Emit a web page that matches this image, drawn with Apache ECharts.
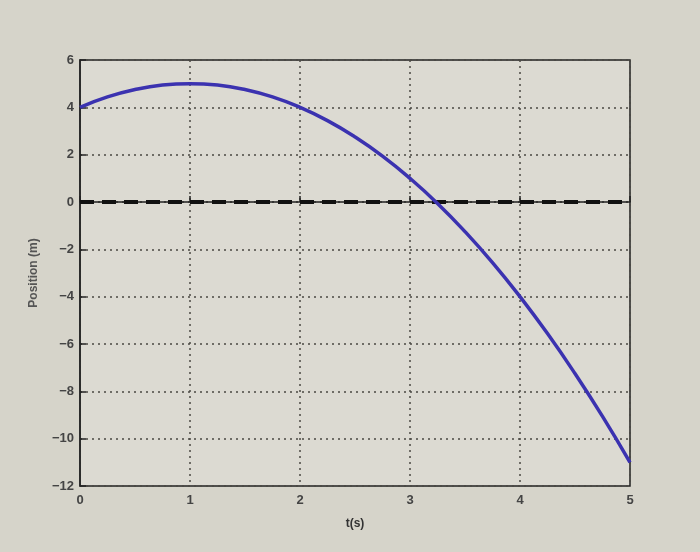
<!DOCTYPE html>
<html><head><meta charset="utf-8">
<script src="https://cdn.jsdelivr.net/npm/echarts@6/dist/echarts.min.js"></script>
<style>html,body{margin:0;padding:0;background:#d6d4ca;}#c{width:700px;height:552px;}</style>
</head><body><div id="c"></div>
<script>
const tValues = [0,0.25,0.5,0.75,1,1.25,1.5,1.75,2,2.25,2.5,2.75,3,3.25,3.5,3.75,4,4.25,4.5,4.75,5];
const position = [4,4.44,4.75,4.94,5,4.94,4.75,4.44,4,3.44,2.75,1.94,1,-0.06,-1.25,-2.56,-4,-5.56,-7.25,-9.06,-11];
const refT = [0,5];
const refY = [0,0];
const xTicks = [0,1,2,3,4,5];
const yTicks = [-12,-10,-8,-6,-4,-2,0,2,4,6];

const chart = echarts.init(document.getElementById('c'));
const gridStyle = {show:true, lineStyle:{color:'#4a4843', type:[2,4], width:1.5}};
chart.setOption({
  backgroundColor:'#d6d4ca',
  animation:false,
  grid:{left:80, right:70, top:60, bottom:66, show:true, borderColor:'#222', borderWidth:1.5, backgroundColor:'#dcdad2'},
  xAxis:{type:'value', min:0, max:5, interval:1,
    name:'t(s)', nameLocation:'middle', nameGap:32,
    nameTextStyle:{color:'#333', fontSize:12, fontFamily:'Liberation Sans', fontWeight:'bold'},
    axisLine:{lineStyle:{color:'#222', width:1.5}},
    axisTick:{inside:true, length:6, lineStyle:{color:'#222', width:1.5}},
    axisLabel:{color:'#444', fontSize:13, fontWeight:'bold', fontFamily:'Liberation Sans', margin:8,
      formatter:v=>xTicks.includes(v)?String(v):''},
    splitLine:gridStyle},
  yAxis:{type:'value', min:-12, max:6, interval:2,
    name:'Position (m)', nameLocation:'middle', nameGap:40, nameRotate:90,
    nameTextStyle:{color:'#555', fontSize:12, fontFamily:'Liberation Sans', fontWeight:'bold'},
    axisLine:{lineStyle:{color:'#222', width:1.5}},
    axisTick:{inside:true, length:6, lineStyle:{color:'#222', width:1.5}},
    axisLabel:{color:'#444', fontSize:13, fontWeight:'bold', fontFamily:'Liberation Sans', margin:6,
      formatter:v=>yTicks.includes(v)?String(v).replace('-','\u2212'):''},
    splitLine:gridStyle},
  series:[
    {type:'line', data:refT.map((t,i)=>[t,refY[i]]), showSymbol:false,
      lineStyle:{color:'#111', width:4, type:[14,8]}, z:3},
    {type:'line', data:tValues.map((t,i)=>[t,position[i]]), showSymbol:false, smooth:true,
      lineStyle:{color:'#3b32b0', width:3.5}, z:4}
  ]
});
</script></body></html>
